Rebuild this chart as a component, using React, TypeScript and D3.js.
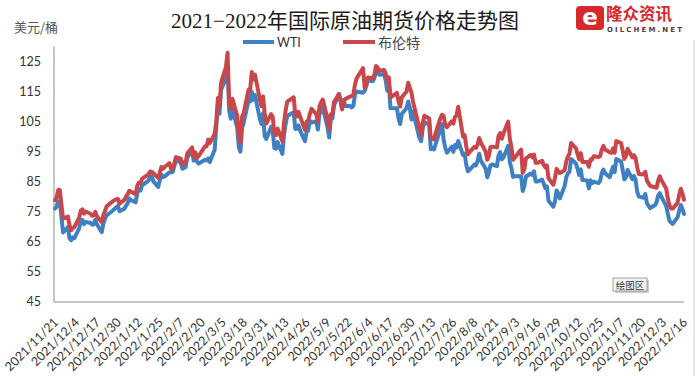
import React from "react";
import * as d3 from "d3";

const dates: string[] = [
  "2021-11-21","2021-11-22","2021-11-23","2021-11-24","2021-11-26","2021-11-29","2021-11-30","2021-12-01","2021-12-02","2021-12-03",
  "2021-12-06","2021-12-07","2021-12-08","2021-12-09","2021-12-10","2021-12-13","2021-12-14","2021-12-15","2021-12-16","2021-12-17",
  "2021-12-20","2021-12-21","2021-12-22","2021-12-23","2021-12-27","2021-12-28","2021-12-29","2021-12-30","2021-12-31",
  "2022-01-03","2022-01-04","2022-01-05","2022-01-06","2022-01-07","2022-01-10","2022-01-11","2022-01-12","2022-01-13","2022-01-14",
  "2022-01-18","2022-01-19","2022-01-20","2022-01-21","2022-01-24","2022-01-25","2022-01-26","2022-01-27","2022-01-28","2022-01-31",
  "2022-02-01","2022-02-02","2022-02-03","2022-02-04","2022-02-07","2022-02-08","2022-02-09","2022-02-10","2022-02-11","2022-02-14",
  "2022-02-15","2022-02-16","2022-02-17","2022-02-18","2022-02-22","2022-02-23","2022-02-24","2022-02-25","2022-02-28",
  "2022-03-01","2022-03-02","2022-03-03","2022-03-04","2022-03-07","2022-03-08","2022-03-09","2022-03-10","2022-03-11","2022-03-14",
  "2022-03-15","2022-03-16","2022-03-17","2022-03-18","2022-03-21","2022-03-22","2022-03-23","2022-03-24","2022-03-25","2022-03-28",
  "2022-03-29","2022-03-30","2022-03-31","2022-04-01","2022-04-04","2022-04-05","2022-04-06","2022-04-07","2022-04-08","2022-04-11",
  "2022-04-12","2022-04-13","2022-04-14","2022-04-18","2022-04-19","2022-04-20","2022-04-21","2022-04-22","2022-04-25","2022-04-26",
  "2022-04-27","2022-04-28","2022-04-29","2022-05-02","2022-05-03","2022-05-04","2022-05-05","2022-05-06","2022-05-09","2022-05-10",
  "2022-05-11","2022-05-12","2022-05-13","2022-05-16","2022-05-17","2022-05-18","2022-05-19","2022-05-20","2022-05-23","2022-05-24",
  "2022-05-25","2022-05-26","2022-05-27","2022-05-31","2022-06-01","2022-06-02","2022-06-03","2022-06-06","2022-06-07","2022-06-08",
  "2022-06-09","2022-06-10","2022-06-13","2022-06-14","2022-06-15","2022-06-16","2022-06-17","2022-06-21","2022-06-22","2022-06-23",
  "2022-06-24","2022-06-27","2022-06-28","2022-06-29","2022-06-30","2022-07-01","2022-07-05","2022-07-06","2022-07-07","2022-07-08",
  "2022-07-11","2022-07-12","2022-07-13","2022-07-14","2022-07-15","2022-07-18","2022-07-19","2022-07-20","2022-07-21","2022-07-22",
  "2022-07-25","2022-07-26","2022-07-27","2022-07-28","2022-07-29","2022-08-01","2022-08-02","2022-08-03","2022-08-04","2022-08-05",
  "2022-08-08","2022-08-09","2022-08-10","2022-08-11","2022-08-12","2022-08-15","2022-08-16","2022-08-17","2022-08-18","2022-08-19",
  "2022-08-22","2022-08-23","2022-08-24","2022-08-25","2022-08-26","2022-08-29","2022-08-30","2022-08-31","2022-09-01","2022-09-02",
  "2022-09-06","2022-09-07","2022-09-08","2022-09-09","2022-09-12","2022-09-13","2022-09-14","2022-09-15","2022-09-16","2022-09-19",
  "2022-09-20","2022-09-21","2022-09-22","2022-09-23","2022-09-26","2022-09-27","2022-09-28","2022-09-29","2022-09-30","2022-10-03",
  "2022-10-04","2022-10-05","2022-10-06","2022-10-07","2022-10-10","2022-10-11","2022-10-12","2022-10-13","2022-10-14","2022-10-17",
  "2022-10-18","2022-10-19","2022-10-20","2022-10-21","2022-10-24","2022-10-25","2022-10-26","2022-10-27","2022-10-28","2022-10-31",
  "2022-11-01","2022-11-02","2022-11-03","2022-11-04","2022-11-07","2022-11-08","2022-11-09","2022-11-10","2022-11-11","2022-11-14",
  "2022-11-15","2022-11-16","2022-11-17","2022-11-18","2022-11-21","2022-11-22","2022-11-23","2022-11-25","2022-11-28","2022-11-29",
  "2022-11-30","2022-12-01","2022-12-02","2022-12-05","2022-12-06","2022-12-07","2022-12-08","2022-12-09","2022-12-12","2022-12-13",
  "2022-12-14","2022-12-15","2022-12-16"
];

const wti: number[] = [
  76.10,76.75,78.50,78.39,68.15,69.95,66.18,65.57,66.50,66.26,
  69.49,72.05,72.36,70.94,71.67,71.29,70.73,70.87,72.38,70.86,
  68.23,71.12,72.76,73.79,75.57,75.98,76.56,76.99,75.21,
  76.08,77.00,77.85,79.46,78.90,78.23,81.22,82.64,82.12,83.82,
  85.43,86.96,86.90,85.14,83.31,85.60,87.35,86.61,86.82,88.15,
  88.20,88.26,90.27,92.31,91.32,89.36,89.66,89.88,93.10,95.46,
  92.07,93.66,91.76,91.07,92.35,92.10,92.81,91.59,95.72,
  103.41,110.60,107.67,115.68,119.40,123.70,108.70,106.02,109.33,103.01,
  96.44,95.04,102.98,104.70,112.12,111.76,114.93,112.34,113.90,105.96,
  104.24,107.82,100.28,99.27,103.28,101.96,96.23,96.03,98.26,94.29,
  100.60,104.25,106.95,108.21,102.56,102.75,103.79,102.07,98.54,101.70,
  102.02,105.36,104.69,105.17,102.41,107.81,108.26,109.77,103.09,99.76,
  105.71,106.13,110.49,114.20,112.40,109.59,112.21,110.28,110.29,109.77,
  110.33,114.09,115.07,114.67,115.26,116.87,118.87,118.50,119.41,122.11,
  121.51,120.67,120.93,118.93,115.31,117.59,109.56,109.52,106.19,104.27,
  107.62,109.57,111.76,109.78,105.76,108.43,99.50,98.53,102.73,104.79,
  104.09,95.84,96.30,95.78,97.59,102.60,104.22,98.88,96.35,94.70,
  96.70,94.98,97.26,96.42,98.62,93.89,94.42,90.66,88.54,89.01,
  90.76,90.50,91.93,94.34,92.09,89.41,86.53,88.11,90.50,90.77,
  90.23,93.74,94.89,92.52,93.06,97.01,91.64,89.55,86.61,86.87,
  86.88,81.94,83.54,86.79,87.78,87.31,88.48,85.10,85.11,85.73,
  84.45,82.94,83.49,78.74,76.71,78.50,82.15,81.23,79.49,83.63,
  86.52,87.76,88.45,92.64,91.13,89.35,87.27,89.11,85.61,85.46,
  82.82,85.55,84.51,85.05,84.58,85.32,87.91,89.08,87.90,86.53,
  88.37,90.00,88.17,92.61,91.79,88.91,85.83,86.47,88.96,85.87,
  86.92,85.59,81.64,80.08,79.73,80.95,77.94,76.28,77.24,78.20,
  80.55,81.22,79.98,76.93,74.25,72.01,71.46,71.02,73.17,75.39,
  77.28,76.11,74.29
];

const brent: number[] = [
  78.89,79.70,82.31,82.25,72.72,73.44,70.57,68.87,69.67,69.88,
  73.08,75.44,75.82,74.42,75.15,74.39,73.70,73.88,75.02,73.52,
  71.52,73.98,75.29,76.85,78.60,78.94,79.23,79.32,77.78,
  78.98,80.00,80.80,81.99,81.75,80.87,83.72,84.67,84.47,86.06,
  87.51,88.44,88.38,87.89,86.27,88.20,89.96,89.34,90.03,91.21,
  89.16,89.47,91.11,93.27,92.69,90.78,91.55,91.41,94.44,96.48,
  93.28,94.81,92.97,93.54,96.84,96.84,99.08,97.93,100.99,
  104.97,112.93,110.46,118.11,123.21,127.98,111.14,109.33,112.67,106.90,
  99.91,98.02,106.64,107.93,115.62,115.48,121.60,119.03,120.65,112.48,
  110.23,113.45,107.91,104.39,107.53,106.64,101.07,100.58,102.78,98.48,
  104.64,108.78,111.70,113.16,107.25,106.80,108.33,106.65,102.32,104.99,
  105.32,107.59,109.34,107.58,104.97,110.14,111.55,112.39,105.94,102.46,
  107.51,107.45,111.55,114.24,111.93,109.11,112.04,112.55,113.42,113.56,
  114.03,117.40,119.43,122.84,116.29,117.61,119.72,119.51,120.57,123.58,
  123.07,122.01,122.27,121.17,118.51,119.81,113.12,114.65,111.74,110.05,
  113.12,115.09,117.98,116.26,114.81,111.63,102.77,100.69,104.65,107.02,
  106.10,99.49,99.57,99.10,101.16,106.27,107.35,106.92,103.86,103.20,
  105.15,104.40,106.62,107.14,110.01,100.03,100.54,96.78,94.12,94.92,
  96.65,96.31,97.40,99.60,98.15,95.10,92.34,93.65,96.59,96.72,
  96.48,100.22,101.22,99.34,100.99,105.09,99.31,96.49,92.36,93.02,
  95.74,88.00,89.15,92.84,94.00,93.17,94.10,91.36,91.35,92.00,
  90.62,89.83,90.46,86.15,84.06,86.27,89.32,88.49,87.96,88.86,
  91.80,93.37,94.42,97.92,96.19,94.29,92.45,94.57,91.63,91.62,
  90.03,92.41,92.38,93.50,93.26,93.52,95.69,96.96,95.77,94.83,
  94.65,96.16,94.67,98.57,97.92,95.36,92.65,93.67,95.99,93.14,
  93.86,92.86,89.78,87.62,87.45,88.36,85.41,83.63,83.19,83.03,
  85.43,86.88,85.57,82.68,79.35,77.17,76.15,76.10,77.99,80.68,
  82.70,81.21,79.04
];

const xTickLabels: string[] = [
  "2021/11/21","2021/12/4","2021/12/17","2021/12/30","2022/1/12","2022/1/25","2022/2/7","2022/2/20",
  "2022/3/5","2022/3/18","2022/3/31","2022/4/13","2022/4/26","2022/5/9","2022/5/22","2022/6/4",
  "2022/6/17","2022/6/30","2022/7/13","2022/7/26","2022/8/8","2022/8/21","2022/9/3","2022/9/16",
  "2022/9/29","2022/10/12","2022/10/25","2022/11/7","2022/11/20","2022/12/3","2022/12/16"
];

const yTicks: number[] = [45, 55, 65, 75, 85, 95, 105, 115, 125];
const seriesNames: string[] = ["WTI", "布伦特"];
const seriesColors: string[] = ["#3f80c2", "#c9474a"];

const parseDate = d3.timeParse("%Y-%m-%d");
const parseLabel = d3.timeParse("%Y/%m/%d");

export default function App() {
  const W = 700, H = 376;
  const left = 54, right = 684, top = 46.5, bottom = 302;
  const x = d3.scaleTime()
    .domain([parseDate("2021-11-21") as Date, parseDate("2022-12-16") as Date])
    .range([left + 1, right]);
  const y = d3.scaleLinear().domain([45, 125]).range([bottom, 61.7]);

  const rows = dates.map((d, i) => ({ date: parseDate(d) as Date, wti: wti[i], brent: brent[i] }));
  const lineW = d3.line<any>().x((d) => x(d.date)).y((d) => y(d.wti));
  const lineB = d3.line<any>().x((d) => x(d.date)).y((d) => y(d.brent));

  const sans = "Lato, 'Noto Sans', 'Noto Sans CJK SC', sans-serif";
  const cjk = "'Noto Sans CJK SC', sans-serif";

  return (
    <div style={{ position: "absolute", left: 0, top: 0, width: W, height: H, background: "#fff" }}>
      <svg width={W} height={H} style={{ display: "block" }}>
        <rect x={0} y={0} width={W} height={H} fill="#fff" />
        {/* title */}
        <text x={345} y={28} textAnchor="middle" fontSize={21} fill="#1a1a1a"
          fontFamily="'Liberation Serif', 'Noto Sans CJK SC', serif">2021−2022年国际原油期货价格走势图</text>
        {/* unit */}
        <text x={14} y={32} fontSize={13} fill="#555" fontFamily={cjk}>美元/桶</text>

        {/* logo */}
        <rect x={576} y={6} width={28} height={24} rx={4} fill="#d7282b" />
        <text x={590} y={25} textAnchor="middle" fontSize={23} fontWeight={700} fill="#fff"
          fontFamily="'DejaVu Sans', sans-serif">e</text>
        <text x={606} y={20} fontSize={16.5} fontWeight={700} fill="#d7282b" fontFamily={cjk}>隆众资讯</text>
        <text x={607} y={31.5} fontSize={7} fontWeight={700} fill="#5a3a3a" textLength={75}
          fontFamily="'DejaVu Sans', sans-serif">OILCHEM.NET</text>

        {/* legend */}
        <line x1={243} x2={274} y1={42} y2={42} stroke={seriesColors[0]} strokeWidth={4} />
        <text x={277} y={47} fontSize={12.5} fill="#333" fontFamily={sans}>{seriesNames[0]}</text>
        <line x1={343} x2={375} y1={42} y2={42} stroke={seriesColors[1]} strokeWidth={4} />
        <text x={378} y={48} fontSize={14} fill="#444" fontFamily={cjk}>{seriesNames[1]}</text>

        {/* axes */}
        <line x1={left} x2={left} y1={top} y2={bottom} stroke="#8c8c8c" strokeWidth={1} />
        <line x1={left} x2={right} y1={bottom} y2={bottom} stroke="#8c8c8c" strokeWidth={1} />
        {yTicks.map((t) => (
          <text key={t} x={41} y={y(t)} dy="0.35em" textAnchor="end" fontSize={12.5} fill="#333" fontFamily={sans}>{t}</text>
        ))}
        {xTickLabels.map((lab) => {
          const xv = x(parseLabel(lab) as Date);
          return (
            <text key={lab} transform={`translate(${xv + 1},320) rotate(-45)`} dy="0.35em" textAnchor="end"
              fontSize={12.5} fill="#333" fontFamily={sans}>{lab}</text>
          );
        })}

        {/* lines */}
        <path d={lineW(rows) || ""} fill="none" stroke={seriesColors[0]} strokeWidth={4} strokeLinejoin="round" strokeLinecap="round" />
        <path d={lineB(rows) || ""} fill="none" stroke={seriesColors[1]} strokeWidth={4} strokeLinejoin="round" strokeLinecap="round" />

        {/* plot area tooltip */}
        <rect x={615} y={280} width={34} height={13} fill="#999" opacity={0.5} />
        <rect x={613} y={278} width={34} height={13} fill="#f5f5f5" stroke="#8a8a8a" strokeWidth={0.8} />
        <text x={630} y={288.5} textAnchor="middle" fontSize={9.5} fill="#333" fontFamily={cjk}>绘图区</text>

        {/* right border */}
        <line x1={694} x2={694} y1={40} y2={H} stroke="#d0d0d0" strokeWidth={1} />
      </svg>
    </div>
  );
}
